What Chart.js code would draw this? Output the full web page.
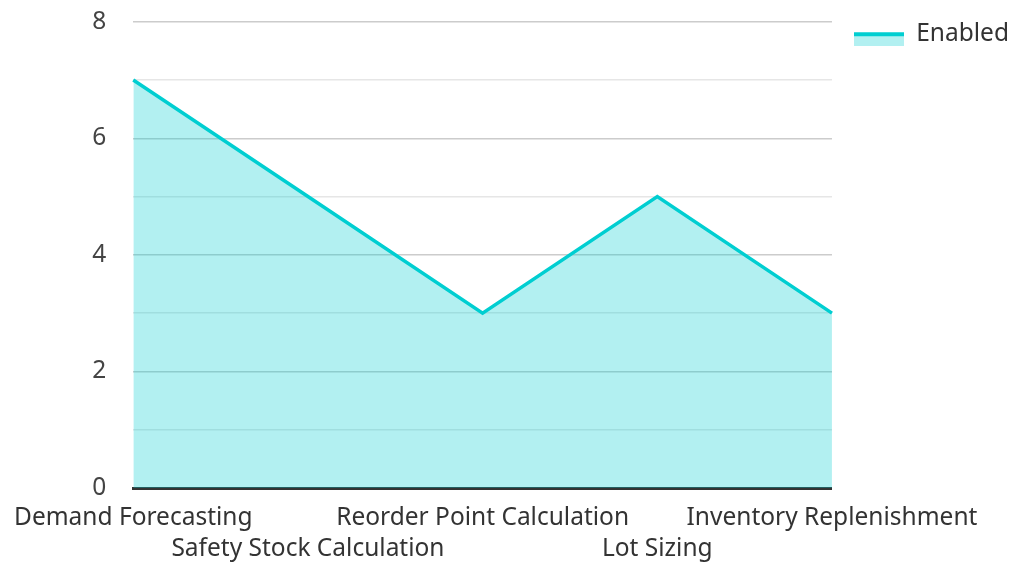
<!DOCTYPE html>
<html>
<head>
<meta charset="utf-8">
<script src="https://cdn.jsdelivr.net/npm/chart.js@4.4.0/dist/chart.umd.min.js"></script>
<style>
  html, body { margin: 0; padding: 0; background: #fff; }
  #wrap { width: 1013px; height: 562px; position: relative; }
</style>
</head>
<body>
<div id="wrap"><canvas id="chart"></canvas></div>
<script>
// Chart data
const categories = [
  'Demand Forecasting',
  'Safety Stock Calculation',
  'Reorder Point Calculation',
  'Lot Sizing',
  'Inventory Replenishment'
];
const enabledValues = [7, 5, 3, 5, 3];
const seriesName = 'Enabled';

const lineColor = '#00CED1';
const fillColor = 'rgba(0, 206, 209, 0.3)';
const fontSize = 24.5;

Chart.defaults.font.family = "'Noto Sans', 'Open Sans', sans-serif";
Chart.defaults.color = '#444';

// legend swatch: filled box with a thick line on top
function makeSwatch() {
  const c = document.createElement('canvas');
  c.width = 50;
  c.height = 24;
  const g = c.getContext('2d');
  g.fillStyle = fillColor;
  g.fillRect(0, 10, 50, 14);
  g.fillStyle = lineColor;
  g.fillRect(0, 10, 50, 4);
  return c;
}
const swatch = makeSwatch();

const ctx = document.getElementById('chart').getContext('2d');
window.chart = new Chart(ctx, {
  type: 'line',
  data: {
    labels: categories,
    datasets: [{
      label: seriesName,
      data: enabledValues,
      borderColor: lineColor,
      backgroundColor: fillColor,
      borderWidth: 3.5,
      fill: 'origin',
      tension: 0,
      pointRadius: 0,
      pointHoverRadius: 0,
      pointStyle: swatch
    }]
  },
  options: {
    responsive: true,
    maintainAspectRatio: false,
    animation: false,
    layout: { padding: { left: 0, top: 0, bottom: 0, right: -6 } },
    plugins: {
      tooltip: { enabled: false },
      legend: {
        position: 'right',
        align: 'start',
        labels: {
          usePointStyle: true,
          pointStyleWidth: 50,
          color: '#333',
          font: { size: fontSize },
          padding: 22
        }
      }
    },
    scales: {
      x: {
        offset: false,
        grid: { display: false, drawTicks: false },
        border: { display: true, color: '#333', width: 3 },
        afterFit: scale => { scale.height = 74; },
        ticks: {
          autoSkip: false,
          maxRotation: 0,
          minRotation: 0,
          padding: 14,
          color: '#333',
          font: { size: fontSize, lineHeight: 1.27 },
          callback: function (value, index) {
            const name = categories[index];
            return index % 2 === 1 ? ['', name] : name;
          }
        }
      },
      y: {
        min: 0,
        max: 8,
        border: { display: false },
        grid: {
          drawTicks: true,
          tickLength: 20,
          tickColor: 'transparent',
          lineWidth: 1.5,
          color: c => (c.tick && c.tick.value % 2 === 0) ? '#cccccc' : '#e6e6e6'
        },
        ticks: {
          stepSize: 1,
          padding: 7,
          color: '#444',
          font: { size: fontSize },
          callback: v => (v % 2 === 0 ? v : '')
        }
      }
    }
  }
});
</script>
</body>
</html>
